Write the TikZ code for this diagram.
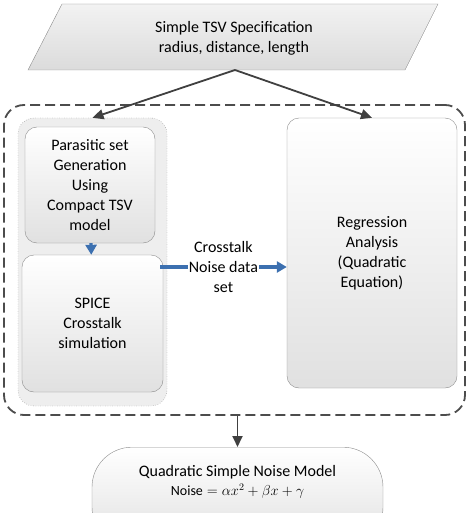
\documentclass[tikz,border=0pt]{standalone}
\usepackage{fontspec}
\setmainfont{Carlito}
\usetikzlibrary{arrows.meta}
\definecolor{boxline}{RGB}{140,140,140}
\definecolor{flowblue}{RGB}{60,112,176}
\definecolor{panel}{RGB}{238,238,238}

\begin{document}
\begin{tikzpicture}[x=1pt,y=-1pt,font=\fontsize{16}{20}\selectfont,
	box/.style={draw=boxline,rounded corners=12pt,top color=white,bottom color=black!12,align=center,inner sep=0pt},
	blk/.style={draw=black!75,line width=1.8pt,-{Triangle[length=11pt,width=10pt]}},
	blu/.style={draw=flowblue,line width=3.2pt,-{Triangle[length=10pt,width=11pt]}}]%,cap=round]
					\useasboundingbox (0,0) rectangle (474,513);
					\clip (0,0) rectangle (474,513);
					\coordinate (specNW) at (62,4);
					\coordinate (specNE) at (438,4);
					\coordinate (specSE) at (405,70);
					\coordinate (specSW) at (28,70);
					\coordinate (specout) at (235,70);
					\path[draw=boxline,top color=black!5,bottom color=black!14] (specNW) -- (specNE) -- (specSE) -- (specSW) -- cycle;
					\node[align=center] (spec) at (234,38) {Simple TSV Specification\\radius, distance, length};
					
					\node[draw=black!70,line width=1.8pt,dash pattern=on 10pt off 5pt,rounded corners=20pt,minimum width=461pt,minimum height=310pt] (loop) at (234.5,260) {};
					\node[draw=black!60,dotted,fill=panel,rounded corners=16pt,minimum width=149pt,minimum height=288pt] (sim) at (92.5,262) {};
					\node[box,minimum width=130pt,minimum height=116pt] (para) at (90,185) {Parasitic set\\Generation\\Using\\Compact TSV\\model};
					\node[box,minimum width=141pt,minimum height=137pt] (spice) at (92.5,323.5) {SPICE\\Crosstalk\\simulation};
					\node[box,minimum width=170pt,minimum height=270pt] (regr) at (372,253) {Regression\\Analysis\\(Quadratic\\Equation)};
					\node[box,rounded corners=40pt,minimum width=291pt,minimum height=100pt,anchor=north] (model) at (237.5,447) {};
					\node[align=center] (modeltext) at (237.5,482) {Quadratic Simple Noise Model\\[-1pt]{\fontsize{14}{16}\selectfont $\mathrm{Noise}=\alpha x^2+\beta x+\gamma$}};
					
					\draw[blk] (specout) -- (sim.north);
					\draw[blk] (specout) -- (regr.north);
					\draw[blu] (para) -- (spice);
					\coordinate (tap) at (160,267);
					\draw[blu] (tap) -- node[fill=white,align=center,inner sep=1pt] (xtalk) {Crosstalk\\Noise data\\set} (tap -| regr.west);
					\draw[blk] (loop.south -| model.north) -- (model.north);
				\end{tikzpicture}
\end{document}
